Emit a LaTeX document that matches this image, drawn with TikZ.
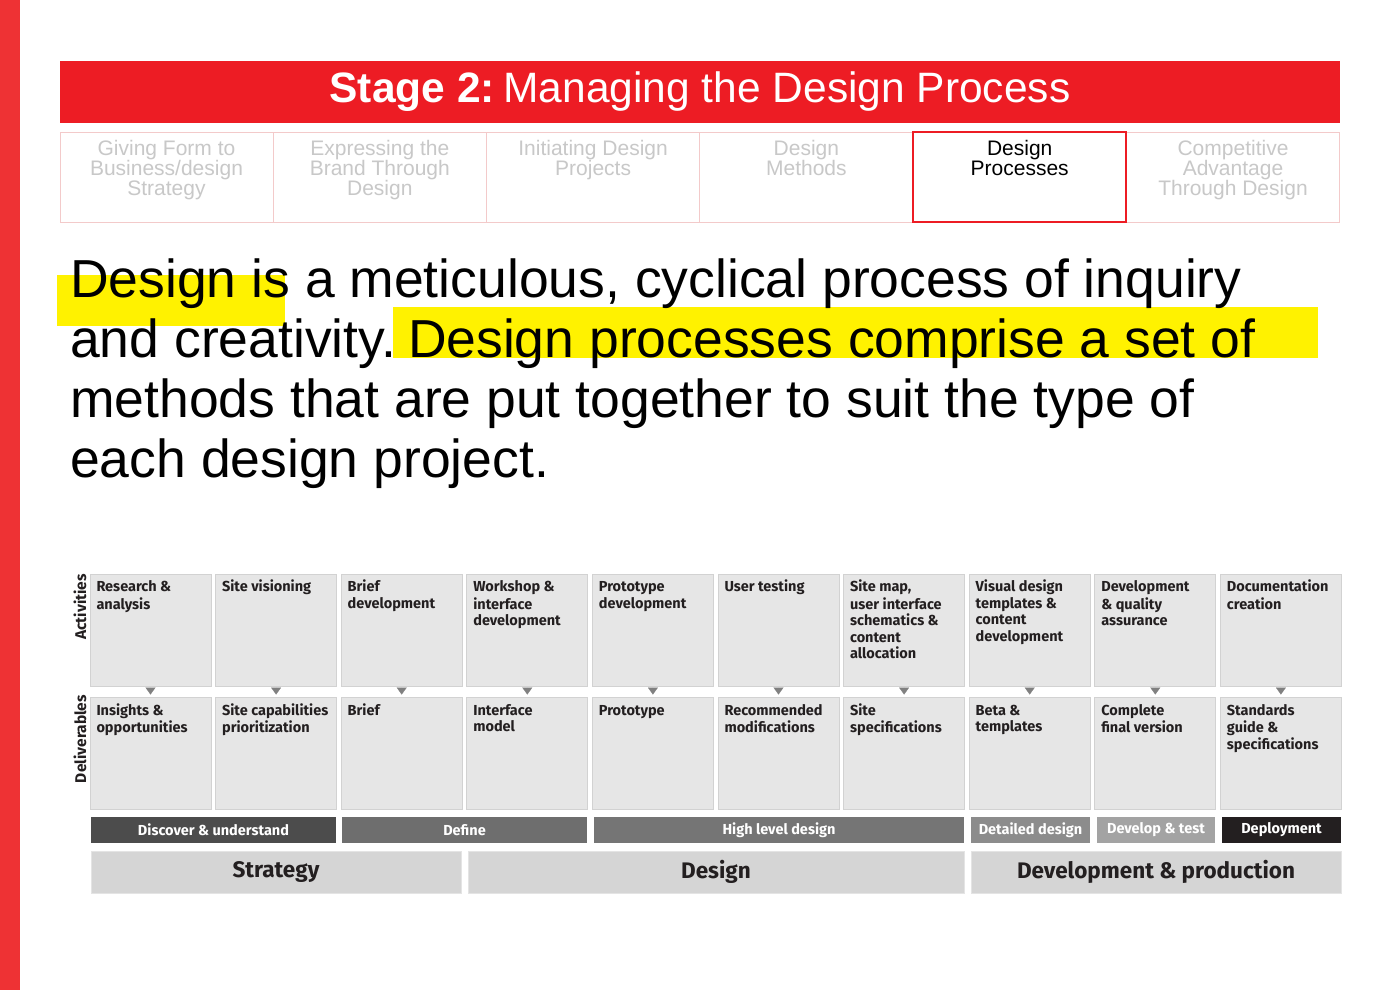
\documentclass[tikz,border=0pt]{standalone}
\usepackage{fontspec}
\setmainfont{Liberation Sans}
\newfontfamily\gridfont{Fira Sans}
\usetikzlibrary{positioning,arrows.meta}

\definecolor{stagered}{HTML}{ED1C24}
\definecolor{sidered}{HTML}{EE3234}
\definecolor{tabline}{HTML}{F3CACA}
\definecolor{tabgray}{HTML}{C8C8C8}
\definecolor{marker}{HTML}{FFF200}
\definecolor{boxfill}{HTML}{E6E6E6}
\definecolor{boxline}{HTML}{D2D2D2}
\definecolor{barfill}{HTML}{D5D5D5}
\definecolor{inkdark}{HTML}{231F20}

\tikzset{
  tab/.style={draw=tabline, line width=1pt, minimum width=213pt, minimum height=90pt,
    inner xsep=4pt, inner ysep=8pt, outer sep=0pt, text=tabgray},
  cell/.style={draw=boxline, fill=boxfill, line width=1pt, inner xsep=6.5pt, inner ysep=6pt,
    outer sep=0pt, text=inkdark},
  sidelabel/.style={rotate=90, text=inkdark, font=\gridfont\bfseries\fontsize{15.5}{16}\selectfont},
  phase/.style={minimum height=26pt, inner sep=0pt, outer sep=0pt, text=white,
    font=\gridfont\bfseries\fontsize{14.5}{15}\selectfont},
  block/.style={draw=boxline!60, fill=barfill, line width=1pt, minimum height=42pt,
    inner sep=0pt, outer sep=0pt, text=inkdark, font=\gridfont\bfseries\fontsize{22.5}{24}\selectfont},
  tri/.style={draw=gray, fill=gray, line width=0.2pt, shorten <=2pt, shorten >=3pt,
    -{Triangle[width=10pt,length=7pt]}}
}

\newcommand{\celltext}[1]{\parbox[t][100pt][t]{108pt}{\raggedright\gridfont\bfseries\fontsize{14.5}{16.5}\selectfont\strut #1}}
\newcommand{\tabtext}[1]{\parbox[t][74pt][t]{205pt}{\centering\fontsize{21}{20}\selectfont #1}}

\begin{document}
\begin{tikzpicture}[x=1pt,y=-1pt]
  \useasboundingbox (0,0) rectangle (1400,990);
  \fill[white] (0,0) rectangle (1400,990);

  % red strip and title band
  \fill[sidered] (0,0) rectangle (20,990);
  \node[fill=stagered, minimum width=1280pt, minimum height=62pt, inner sep=0pt, text=white,
    font=\fontsize{42.5}{44}\selectfont] (title) at (700,92) {\textbf{Stage 2:}\hspace{0.2em}Managing the Design Process};

  % chapter tabs
  \foreach \i/\t in {1/{Giving Form to\\Business/design\\Strategy},
                     2/{Expressing the\\Brand Through\\Design},
                     3/{Initiating Design\\Projects},
                     4/{Design\\Methods},
                     6/{Competitive\\Advantage\\Through Design}} {
    \node[tab] (tab\i) at (166.5+213.3*\i-213.3,177) {\tabtext{\t}};
  }
  \node[tab, draw=stagered, line width=1.6pt, text=black] (tab5) at (1019.7,177) {\tabtext{Design\\Processes}};

  % highlighted statement
  \fill[marker] (57,275) rectangle (285,326);
  \fill[marker] (393,307) rectangle (1318,358);
  \foreach \n/\y/\t in {1/297/{Design is a meticulous, cyclical process of inquiry},
                        2/357/{and creativity.\hspace{0.22em}Design processes comprise a set of},
                        3/417/{methods that are put together to suit the type of},
                        4/477/{each design project.}} {
    \node[anchor=base west, inner sep=0pt, font=\fontsize{53.5}{60}\selectfont] (line\n) at (70,\y) {\t};
  }

  % activities and deliverables
  \node[sidelabel] (actlabel) at (80,607) {Activities};
  \node[sidelabel] (dellabel) at (80,739) {Deliverables};
  \foreach \i/\a/\d in {1/{Research \&\\analysis}/{Insights \&\\opportunities},
                        2/{Site visioning}/{Site capabilities\\prioritization},
                        3/{Brief\\development}/{Brief},
                        4/{Workshop \&\\interface\\development}/{Interface\\model},
                        5/{Prototype\\development}/{Prototype},
                        6/{User testing}/{Recommended\\modifications},
                        7/{Site map,\\user interface\\schematics \&\\content\\allocation}/{Site\\specifications},
                        8/{Visual design\\templates \&\\content\\development}/{Beta \&\\templates},
                        9/{Development\\\& quality\\assurance}/{Complete\\final version},
                        10/{Documentation\\creation}/{Standards\\guide \&\\specifications}} {
    \pgfmathsetmacro\cx{150.5+125.6*(\i-1)}
    \node[cell] (act\i) at (\cx,630) {\celltext{\a}};
    \node[cell] (del\i) at (\cx,753.5) {\celltext{\d}};
    \draw[tri] (act\i.south) -- (del\i.north);
  }

  % phases
  \node[phase, fill=black!70, minimum width=245pt] (discover) at (213.5,830) {Discover \& understand};
  \node[phase, fill=black!57, minimum width=245pt] (define) at (464.5,830) {Define};
  \node[phase, fill=black!54, minimum width=370pt] (highlevel) at (779,830) {High level design};
  \node[phase, fill=black!45, minimum width=119pt] (detailed) at (1030.5,830) {Detailed design};
  \node[phase, fill=black!36, minimum width=118pt] (develop) at (1156,830) {Develop \& test};
  \node[phase, fill=inkdark, minimum width=119pt] (deploy) at (1281.5,830) {Deployment};

  % stages
  \node[block, minimum width=370pt] (strategy) at (276,872) {Strategy};
  \node[block, minimum width=496pt] (design) at (716,872) {Design};
  \node[block, minimum width=370pt] (production) at (1156,872) {Development \& production};
\end{tikzpicture}
\end{document}
